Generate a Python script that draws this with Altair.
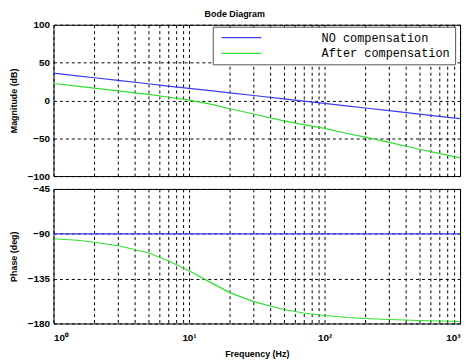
import altair as alt
import pandas as pd

freq = [1, 1.5, 2, 3, 5, 7, 10, 15, 20, 30, 50, 70, 100, 150, 200, 300, 500, 700, 1000]
mag_no = [36, 32.5, 30, 26.5, 22, 19, 16, 12.5, 10, 6.5, 2, -1, -4, -7.5, -10, -13.5, -18, -21, -24]
mag_after = [22.4, 19, 16.3, 12.5, 8, 4.5, 0.3, -5.5, -11, -18, -27, -32, -37, -44, -48.5, -55.5, -64.5, -70, -76]
ph_no = [-90] * len(freq)
ph_after = [-95, -96.5, -98.5, -102, -109, -117, -127, -140, -149, -158, -166, -169.5, -172, -174, -175, -176, -177, -177.5, -178]
series = ["NO compensation", "After compensation"]
colors = ["#3c3cf0", "#30e030"]

mag_ticks = [-100, -50, 0, 50, 100]
ph_ticks = [-180, -135, -90, -45]
x_grid = [m * 10 ** d for d in range(3) for m in range(1, 10)] + [1000]

rows = []
for i, f in enumerate(freq):
    rows.append({"f": f, "series": series[0], "mag": mag_no[i], "ph": ph_no[i]})
    rows.append({"f": f, "series": series[1], "mag": mag_after[i], "ph": ph_after[i]})
df = pd.DataFrame(rows)

xscale = alt.Scale(type="log", domain=[1, 1000], nice=False)
cscale = alt.Scale(domain=series, range=colors)

grid_common = dict(grid=True, gridDash=[3, 3], gridColor="black", gridOpacity=1, gridWidth=1,
                   ticks=False, domain=False)

top = alt.Chart(df).mark_line(strokeWidth=1.2, clip=True).encode(
    x=alt.X("f:Q", scale=xscale,
            axis=alt.Axis(values=x_grid, labels=False, title=None, **grid_common)),
    y=alt.Y("mag:Q", scale=alt.Scale(domain=[-100, 100], nice=False),
            axis=alt.Axis(values=mag_ticks, title="Magnitude (dB)", labelPadding=4,
                          titlePadding=9, **grid_common)),
    color=alt.Color("series:N", scale=cscale, sort=series,
                    legend=alt.Legend(orient="none", legendX=161, legendY=2, title=None,
                                      symbolType="M-4,0H4", symbolSize=100, symbolOffset=18,
                                      symbolStrokeWidth=1.2,
                                      labelFont="Liberation Mono", labelFontSize=12,
                                      labelFontWeight="normal", labelColor="black",
                                      labelOffset=75, padding=5, rowPadding=4,
                                      strokeColor="#555555", fillColor="white")),
).properties(width=411, height=153)

bottom = alt.Chart(df).mark_line(strokeWidth=1.2, clip=True).encode(
    x=alt.X("f:Q", scale=xscale,
            axis=alt.Axis(values=x_grid, title="Frequency (Hz)", labelPadding=9, titlePadding=7,
                          labelExpr="datum.value == 1 ? '10⁰' : datum.value == 10 ? '10¹' : datum.value == 100 ? '10²' : datum.value == 1000 ? '10³' : ''",
                          **grid_common)),
    y=alt.Y("ph:Q", scale=alt.Scale(domain=[-180, -45], nice=False),
            axis=alt.Axis(values=ph_ticks, title="Phase (deg)", labelPadding=4,
                          titlePadding=9, **grid_common)),
    color=alt.Color("series:N", scale=cscale, sort=series, legend=None),
).properties(width=411, height=136)

chart = alt.vconcat(top, bottom, spacing=1).resolve_scale(color="independent").properties(
    title=alt.Title("Bode Diagram", fontSize=9, fontWeight="bold", font="Liberation Sans",
                    offset=0, anchor="middle", color="black"),
    padding={"left": 0, "top": 0, "right": 5, "bottom": 0},
    background="white",
).configure_view(stroke="black", strokeWidth=1).configure_axis(
    labelFont="Liberation Sans", labelFontSize=10, labelFontWeight="bold", labelColor="black",
    titleFont="Liberation Sans", titleFontSize=9, titleFontWeight="bold", titleColor="black",
)

chart.save("out.html", embed_options={"renderer": "svg", "actions": False})
